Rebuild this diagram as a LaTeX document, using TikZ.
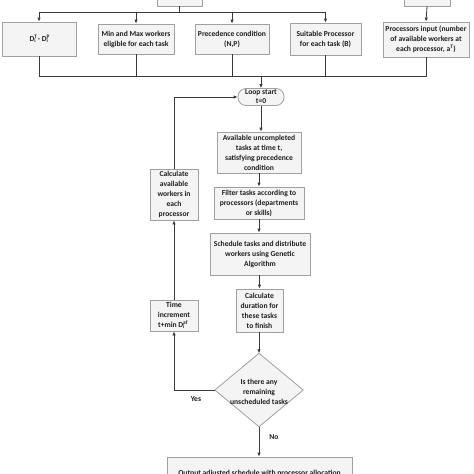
\documentclass[tikz,border=0pt]{standalone}
\usepackage{fontspec}
\setmainfont{Carlito}
\usetikzlibrary{arrows.meta,calc}
\definecolor{boxfill}{HTML}{F4F4F4}
\definecolor{boxline}{HTML}{A0A0A0}
\definecolor{conn}{HTML}{3A3A3A}
\definecolor{txt}{HTML}{1E1E1E}
\tikzset{
  box/.style={draw=boxline, fill=boxfill, line width=0.8pt, inner sep=0pt, align=center,
    text=txt, font=\bfseries\fontsize{7.6}{10}\selectfont},
  loopbox/.style={box, rounded corners=8pt},
  plain/.style={inner sep=0pt, align=center, text=txt, font=\bfseries\fontsize{7.6}{10}\selectfont},
  conline/.style={draw=conn, line width=0.8pt},
  arr/.style={conline, -{Latex[length=4pt,width=3.5pt]}},
  lbl/.style={inner sep=0pt, text=txt, font=\bfseries\fontsize{7.6}{10}\selectfont}
}
\begin{document}
\begin{tikzpicture}[x=1pt,y=-1pt]
\useasboundingbox (0,0) rectangle (474,474);
\clip (0,0) rectangle (474,474);
% cropped top boxes
\node[box, minimum width=45, minimum height=26] (top1) at (179.5,-7) {};
\node[box, minimum width=46, minimum height=26] (top2) at (427,-7) {};
% input row
\node[box, minimum width=74, minimum height=34] (b1) at (39,39) {D\rlap{\textsuperscript{T}}\textsubscript{i} - D\rlap{\textsuperscript{P}}\textsubscript{i}};
\node[box, minimum width=76, minimum height=30] (b2) at (136,39) {Min and Max workers\\eligible for each task};
\node[box, minimum width=74, minimum height=30] (b3) at (232,39) {Precedence condition\\(N,P)};
\node[box, minimum width=71, minimum height=32] (b4) at (325.5,39) {Suitable Processor\\for each task (B)};
\node[box, minimum width=86, minimum height=35] (b5) at (426,39.5) {Processors input (number\\of available workers at\\each processor, a\textsuperscript{T})};
% main flow
\node[loopbox, minimum width=46, minimum height=17] (loop) at (261,97) {Loop start\\[-1pt]t=0};
\node[box, minimum width=84, minimum height=41] (avail) at (259,152.5) {Available uncompleted\\tasks at time t,\\satisfying precedence\\condition};
\node[box, minimum width=90, minimum height=32] (filter) at (259,203) {Filter tasks according to\\processors (departments\\or skills)};
\node[box, minimum width=100, minimum height=42] (sched) at (260,254) {Schedule tasks and distribute\\workers using Genetic\\Algorithm};
\node[box, minimum width=47, minimum height=43] (dur) at (259.5,310.5) {Calculate\\duration for\\these tasks\\to finish};
\node[plain, minimum width=88, minimum height=73] (dq) at (259,390) {};
\draw[draw=boxline, fill=boxfill, line width=0.8pt] (dq.north) -- (dq.east) -- (dq.south) -- (dq.west) -- cycle;
\node[plain] (dqt) at (259,392) {Is there any\\remaining\\unscheduled tasks};
\node[box, minimum width=48, minimum height=51] (ca) at (174,194.5) {Calculate\\available\\workers in\\each\\processor};
\node[box, minimum width=48, minimum height=31] (ti) at (174,315.5) {Time\\increment\\t+min D\rlap{\textsuperscript{af}}\textsubscript{i}\hphantom{\textsuperscript{af}}};
\node[box, minimum width=185, minimum height=32] (out) at (259.5,473) {Output adjusted schedule with processor allocation};
% connectors top
\coordinate (bus1) at (179.5,12);
\draw[conline] (top1.south) -- (bus1);
\draw[arr] (bus1) -| (b1.north);
\draw[arr] (bus1) -| (b2.north);
\draw[arr] (bus1) -| (b3.north);
\draw[arr] (bus1) -| (b4.north);
\draw[arr] (top2.south) -- (b5.north);
\coordinate (bus2) at (261,76);
\draw[conline] (b1.south) |- (bus2);
\draw[conline] (b2.south) |- (bus2);
\draw[conline] (b3.south) |- (bus2);
\draw[conline] (b4.south) |- (bus2);
\draw[conline] (b5.south) |- (bus2);
\draw[arr] (bus2) -- (loop.north);
% main flow arrows
\draw[arr] (loop.south) -- (avail.north -| loop.south);
\draw[arr] (avail.south) -- (filter.north);
\draw[arr] (filter.south) -- (sched.north -| filter.south);
\draw[arr] (sched.south -| dur.north) -- (dur.north);
\draw[arr] (dur.south -| dq.north) -- (dq.north);
\draw[arr] (dq.west) -| (ti.south);
\node[lbl] (yes) at (196,399) {Yes};
\draw[arr] (ti.north) -- (ca.south);
\draw[arr] (ca.north) |- (loop.west);
\draw[arr] (dq.south) -- (out.north -| dq.south);
\node[lbl] (no) at (274,437) {No};
\end{tikzpicture}
\end{document}
